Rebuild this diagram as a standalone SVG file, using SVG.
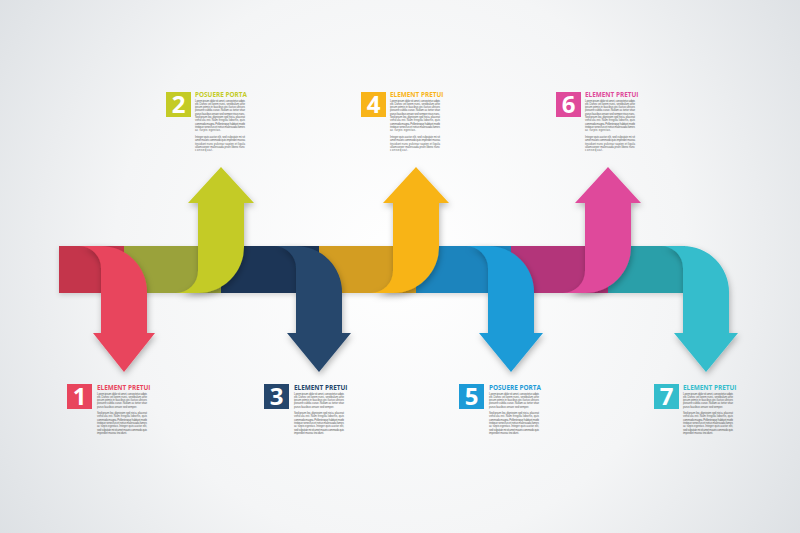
<svg xmlns="http://www.w3.org/2000/svg" width="800" height="533" viewBox="0 0 800 533">
<defs>
<radialGradient id="bg" cx="400" cy="260" r="520" gradientUnits="userSpaceOnUse">
<stop offset="0" stop-color="#ffffff"/>
<stop offset="0.55" stop-color="#f4f5f6"/>
<stop offset="1" stop-color="#d9dde1"/>
</radialGradient>
<filter id="sh" x="-30%" y="-30%" width="160%" height="160%">
<feDropShadow dx="1" dy="3" stdDeviation="3" flood-color="#000" flood-opacity="0.28"/>
</filter>
<filter id="shb" x="-10%" y="-30%" width="120%" height="160%">
<feDropShadow dx="0" dy="2" stdDeviation="2.5" flood-color="#000" flood-opacity="0.15"/>
</filter>
</defs>
<style>
.ttl{font-family:"Open Sans","Liberation Sans",sans-serif;font-weight:700;font-size:6.4px}
.num{font-family:"Open Sans","Liberation Sans",sans-serif;font-weight:700;font-size:24px;fill:#fff;text-anchor:middle}
.body{font-family:"Liberation Sans",Arial,sans-serif;font-size:2.9px;fill:#666}
</style>
<rect width="800" height="533" fill="url(#bg)"/>

<g id="band" filter="url(#shb)">
<rect x="59" y="246" width="66" height="47" fill="#c4354c"/>
<rect x="124" y="246" width="98" height="47" fill="#9aa23b"/>
<rect x="221" y="246" width="99" height="47" fill="#1c3556"/>
<rect x="319" y="246" width="98" height="47" fill="#d39d24"/>
<rect x="416" y="246" width="96" height="47" fill="#1a84bd"/>
<rect x="511" y="246" width="98" height="47" fill="#b3357a"/>
<rect x="608" y="246" width="77" height="47" fill="#2a9fa9"/>
</g>

<g id="step1">
<path filter="url(#sh)" fill="#e8455d" d="M79,246 L101,246 A46,46 0 0 1 147,292 L147,333 L155,333 L124,372 L93,333 L101,333 L101,268 A22,22 0 0 0 79,246 Z"/>
<rect x="67" y="384" width="25" height="25" fill="#e8455d"/>
<text class="num" x="79.5" y="405">1</text>
<text class="ttl" x="97" y="390" fill="#e8455d">ELEMENT PRETUI</text>
<text class="body">
<tspan x="97" y="394.5" textLength="50">Lorem ipsum dolor sit amet, consectetur adipis</tspan>
<tspan x="97" y="397.8" textLength="50">elit. Donec vel lorem nunc, vestibulum ante</tspan>
<tspan x="97" y="401.1" textLength="50">ipsum primis in faucibus orci luctus ultrices</tspan>
<tspan x="97" y="404.4" textLength="50">posuere cubilia curae. Nullam ac tortor vitae</tspan>
<tspan x="97" y="407.7" textLength="40">purus faucibus ornare sed semper.</tspan>
<tspan x="97" y="414" textLength="50">Sed ipsum leo, dignissim sed nisi a, placerat</tspan>
<tspan x="97" y="417.3" textLength="50">vehicula est. Nam fringilla lobortis, quis</tspan>
<tspan x="97" y="420.6" textLength="50">commodo magna. Pellentesque habitant morbi</tspan>
<tspan x="97" y="423.9" textLength="50">tristique senectus et netus malesuada fames</tspan>
<tspan x="97" y="427.2" textLength="50">ac turpis egestas. Integer quis auctor elit,</tspan>
<tspan x="97" y="430.5" textLength="50">sed vulputate mi sit amet mauris commodo quis</tspan>
<tspan x="97" y="433.8" textLength="30">imperdiet massa tincidunt.</tspan>
</text>
</g>

<g id="step2">
<path filter="url(#sh)" fill="#c4cb26" d="M176,293 L198,293 A46,46 0 0 0 244,247 L244,203 L254,203 L221,167 L188,203 L198,203 L198,271 A22,22 0 0 1 176,293 Z"/>
<rect x="166" y="92" width="25" height="25" fill="#c4cb26"/>
<text class="num" x="178.5" y="113">2</text>
<text class="ttl" x="195" y="97" fill="#c4cb26">POSUERE PORTA</text>
<text class="body">
<tspan x="195" y="101.5" textLength="50">Lorem ipsum dolor sit amet, consectetur adipis</tspan>
<tspan x="195" y="104.8" textLength="50">elit. Donec vel lorem nunc, vestibulum ante</tspan>
<tspan x="195" y="108.1" textLength="50">ipsum primis in faucibus orci luctus ultrices</tspan>
<tspan x="195" y="111.4" textLength="50">posuere cubilia curae. Nullam ac tortor vitae</tspan>
<tspan x="195" y="114.7" textLength="50">purus faucibus ornare sed semper risus nunc.</tspan>
<tspan x="195" y="118" textLength="50">Sed ipsum leo, dignissim sed nisi a, placerat</tspan>
<tspan x="195" y="121.3" textLength="50">vehicula est. Nam fringilla lobortis, quis</tspan>
<tspan x="195" y="124.6" textLength="50">commodo magna. Pellentesque habitant morbi</tspan>
<tspan x="195" y="127.9" textLength="50">tristique senectus et netus malesuada fames</tspan>
<tspan x="195" y="131.2" textLength="26">ac turpis egestas.</tspan>
<tspan x="195" y="138" textLength="50">Integer quis auctor elit, sed vulputate mi sit</tspan>
<tspan x="195" y="141.3" textLength="50">amet mauris commodo quis imperdiet massa</tspan>
<tspan x="195" y="144.6" textLength="50">tincidunt nunc pulvinar sapien et ligula</tspan>
<tspan x="195" y="147.9" textLength="50">ullamcorper malesuada proin libero nunc</tspan>
<tspan x="195" y="151.2" textLength="18">consequat.</tspan>
</text>
</g>

<g id="step3">
<path filter="url(#sh)" fill="#25466c" d="M274,246 L296,246 A46,46 0 0 1 342,292 L342,333 L351,333 L319,372 L287,333 L296,333 L296,268 A22,22 0 0 0 274,246 Z"/>
<rect x="264" y="384" width="25" height="25" fill="#25466c"/>
<text class="num" x="276.5" y="405">3</text>
<text class="ttl" x="294" y="390" fill="#25466c">ELEMENT PRETUI</text>
<text class="body">
<tspan x="294" y="394.5" textLength="50">Lorem ipsum dolor sit amet, consectetur adipis</tspan>
<tspan x="294" y="397.8" textLength="50">elit. Donec vel lorem nunc, vestibulum ante</tspan>
<tspan x="294" y="401.1" textLength="50">ipsum primis in faucibus orci luctus ultrices</tspan>
<tspan x="294" y="404.4" textLength="50">posuere cubilia curae. Nullam ac tortor vitae</tspan>
<tspan x="294" y="407.7" textLength="40">purus faucibus ornare sed semper.</tspan>
<tspan x="294" y="414" textLength="50">Sed ipsum leo, dignissim sed nisi a, placerat</tspan>
<tspan x="294" y="417.3" textLength="50">vehicula est. Nam fringilla lobortis, quis</tspan>
<tspan x="294" y="420.6" textLength="50">commodo magna. Pellentesque habitant morbi</tspan>
<tspan x="294" y="423.9" textLength="50">tristique senectus et netus malesuada fames</tspan>
<tspan x="294" y="427.2" textLength="50">ac turpis egestas. Integer quis auctor elit,</tspan>
<tspan x="294" y="430.5" textLength="50">sed vulputate mi sit amet mauris commodo quis</tspan>
<tspan x="294" y="433.8" textLength="30">imperdiet massa tincidunt.</tspan>
</text>
</g>

<g id="step4">
<path filter="url(#sh)" fill="#f8b419" d="M371,293 L393,293 A46,46 0 0 0 439,247 L439,203 L449,203 L416,167 L383,203 L393,203 L393,271 A22,22 0 0 1 371,293 Z"/>
<rect x="361" y="92" width="25" height="25" fill="#f8b419"/>
<text class="num" x="373.5" y="113">4</text>
<text class="ttl" x="390" y="97" fill="#f8b419">ELEMENT PRETUI</text>
<text class="body">
<tspan x="390" y="101.5" textLength="50">Lorem ipsum dolor sit amet, consectetur adipis</tspan>
<tspan x="390" y="104.8" textLength="50">elit. Donec vel lorem nunc, vestibulum ante</tspan>
<tspan x="390" y="108.1" textLength="50">ipsum primis in faucibus orci luctus ultrices</tspan>
<tspan x="390" y="111.4" textLength="50">posuere cubilia curae. Nullam ac tortor vitae</tspan>
<tspan x="390" y="114.7" textLength="50">purus faucibus ornare sed semper risus nunc.</tspan>
<tspan x="390" y="118" textLength="50">Sed ipsum leo, dignissim sed nisi a, placerat</tspan>
<tspan x="390" y="121.3" textLength="50">vehicula est. Nam fringilla lobortis, quis</tspan>
<tspan x="390" y="124.6" textLength="50">commodo magna. Pellentesque habitant morbi</tspan>
<tspan x="390" y="127.9" textLength="50">tristique senectus et netus malesuada fames</tspan>
<tspan x="390" y="131.2" textLength="26">ac turpis egestas.</tspan>
<tspan x="390" y="138" textLength="50">Integer quis auctor elit, sed vulputate mi sit</tspan>
<tspan x="390" y="141.3" textLength="50">amet mauris commodo quis imperdiet massa</tspan>
<tspan x="390" y="144.6" textLength="50">tincidunt nunc pulvinar sapien et ligula</tspan>
<tspan x="390" y="147.9" textLength="50">ullamcorper malesuada proin libero nunc</tspan>
<tspan x="390" y="151.2" textLength="18">consequat.</tspan>
</text>
</g>

<g id="step5">
<path filter="url(#sh)" fill="#1d9bd7" d="M466,246 L488,246 A46,46 0 0 1 534,292 L534,333 L543,333 L511,372 L479,333 L488,333 L488,268 A22,22 0 0 0 466,246 Z"/>
<rect x="459" y="384" width="25" height="25" fill="#1d9bd7"/>
<text class="num" x="471.5" y="405">5</text>
<text class="ttl" x="489" y="390" fill="#1d9bd7">POSUERE PORTA</text>
<text class="body">
<tspan x="489" y="394.5" textLength="50">Lorem ipsum dolor sit amet, consectetur adipis</tspan>
<tspan x="489" y="397.8" textLength="50">elit. Donec vel lorem nunc, vestibulum ante</tspan>
<tspan x="489" y="401.1" textLength="50">ipsum primis in faucibus orci luctus ultrices</tspan>
<tspan x="489" y="404.4" textLength="50">posuere cubilia curae. Nullam ac tortor vitae</tspan>
<tspan x="489" y="407.7" textLength="40">purus faucibus ornare sed semper.</tspan>
<tspan x="489" y="414" textLength="50">Sed ipsum leo, dignissim sed nisi a, placerat</tspan>
<tspan x="489" y="417.3" textLength="50">vehicula est. Nam fringilla lobortis, quis</tspan>
<tspan x="489" y="420.6" textLength="50">commodo magna. Pellentesque habitant morbi</tspan>
<tspan x="489" y="423.9" textLength="50">tristique senectus et netus malesuada fames</tspan>
<tspan x="489" y="427.2" textLength="50">ac turpis egestas. Integer quis auctor elit,</tspan>
<tspan x="489" y="430.5" textLength="50">sed vulputate mi sit amet mauris commodo quis</tspan>
<tspan x="489" y="433.8" textLength="30">imperdiet massa tincidunt.</tspan>
</text>
</g>

<g id="step6">
<path filter="url(#sh)" fill="#df4a9b" d="M563,293 L585,293 A46,46 0 0 0 631,247 L631,203 L641,203 L608,167 L575,203 L585,203 L585,271 A22,22 0 0 1 563,293 Z"/>
<rect x="556" y="92" width="25" height="25" fill="#df4a9b"/>
<text class="num" x="568.5" y="113">6</text>
<text class="ttl" x="585" y="97" fill="#df4a9b">ELEMENT PRETUI</text>
<text class="body">
<tspan x="585" y="101.5" textLength="50">Lorem ipsum dolor sit amet, consectetur adipis</tspan>
<tspan x="585" y="104.8" textLength="50">elit. Donec vel lorem nunc, vestibulum ante</tspan>
<tspan x="585" y="108.1" textLength="50">ipsum primis in faucibus orci luctus ultrices</tspan>
<tspan x="585" y="111.4" textLength="50">posuere cubilia curae. Nullam ac tortor vitae</tspan>
<tspan x="585" y="114.7" textLength="50">purus faucibus ornare sed semper risus nunc.</tspan>
<tspan x="585" y="118" textLength="50">Sed ipsum leo, dignissim sed nisi a, placerat</tspan>
<tspan x="585" y="121.3" textLength="50">vehicula est. Nam fringilla lobortis, quis</tspan>
<tspan x="585" y="124.6" textLength="50">commodo magna. Pellentesque habitant morbi</tspan>
<tspan x="585" y="127.9" textLength="50">tristique senectus et netus malesuada fames</tspan>
<tspan x="585" y="131.2" textLength="26">ac turpis egestas.</tspan>
<tspan x="585" y="138" textLength="50">Integer quis auctor elit, sed vulputate mi sit</tspan>
<tspan x="585" y="141.3" textLength="50">amet mauris commodo quis imperdiet massa</tspan>
<tspan x="585" y="144.6" textLength="50">tincidunt nunc pulvinar sapien et ligula</tspan>
<tspan x="585" y="147.9" textLength="50">ullamcorper malesuada proin libero nunc</tspan>
<tspan x="585" y="151.2" textLength="18">consequat.</tspan>
</text>
</g>

<g id="step7">
<path filter="url(#sh)" fill="#34bdcc" d="M660,246 L683,246 A46,46 0 0 1 729,292 L729,333 L738,333 L706,372 L674,333 L683,333 L683,268 A22,22 0 0 0 660,246 Z"/>
<rect x="654" y="384" width="25" height="25" fill="#34bdcc"/>
<text class="num" x="666.5" y="405">7</text>
<text class="ttl" x="683" y="390" fill="#34bdcc">ELEMENT PRETUI</text>
<text class="body">
<tspan x="683" y="394.5" textLength="50">Lorem ipsum dolor sit amet, consectetur adipis</tspan>
<tspan x="683" y="397.8" textLength="50">elit. Donec vel lorem nunc, vestibulum ante</tspan>
<tspan x="683" y="401.1" textLength="50">ipsum primis in faucibus orci luctus ultrices</tspan>
<tspan x="683" y="404.4" textLength="50">posuere cubilia curae. Nullam ac tortor vitae</tspan>
<tspan x="683" y="407.7" textLength="40">purus faucibus ornare sed semper.</tspan>
<tspan x="683" y="414" textLength="50">Sed ipsum leo, dignissim sed nisi a, placerat</tspan>
<tspan x="683" y="417.3" textLength="50">vehicula est. Nam fringilla lobortis, quis</tspan>
<tspan x="683" y="420.6" textLength="50">commodo magna. Pellentesque habitant morbi</tspan>
<tspan x="683" y="423.9" textLength="50">tristique senectus et netus malesuada fames</tspan>
<tspan x="683" y="427.2" textLength="50">ac turpis egestas. Integer quis auctor elit,</tspan>
<tspan x="683" y="430.5" textLength="50">sed vulputate mi sit amet mauris commodo quis</tspan>
<tspan x="683" y="433.8" textLength="30">imperdiet massa tincidunt.</tspan>
</text>
</g>
</svg>
